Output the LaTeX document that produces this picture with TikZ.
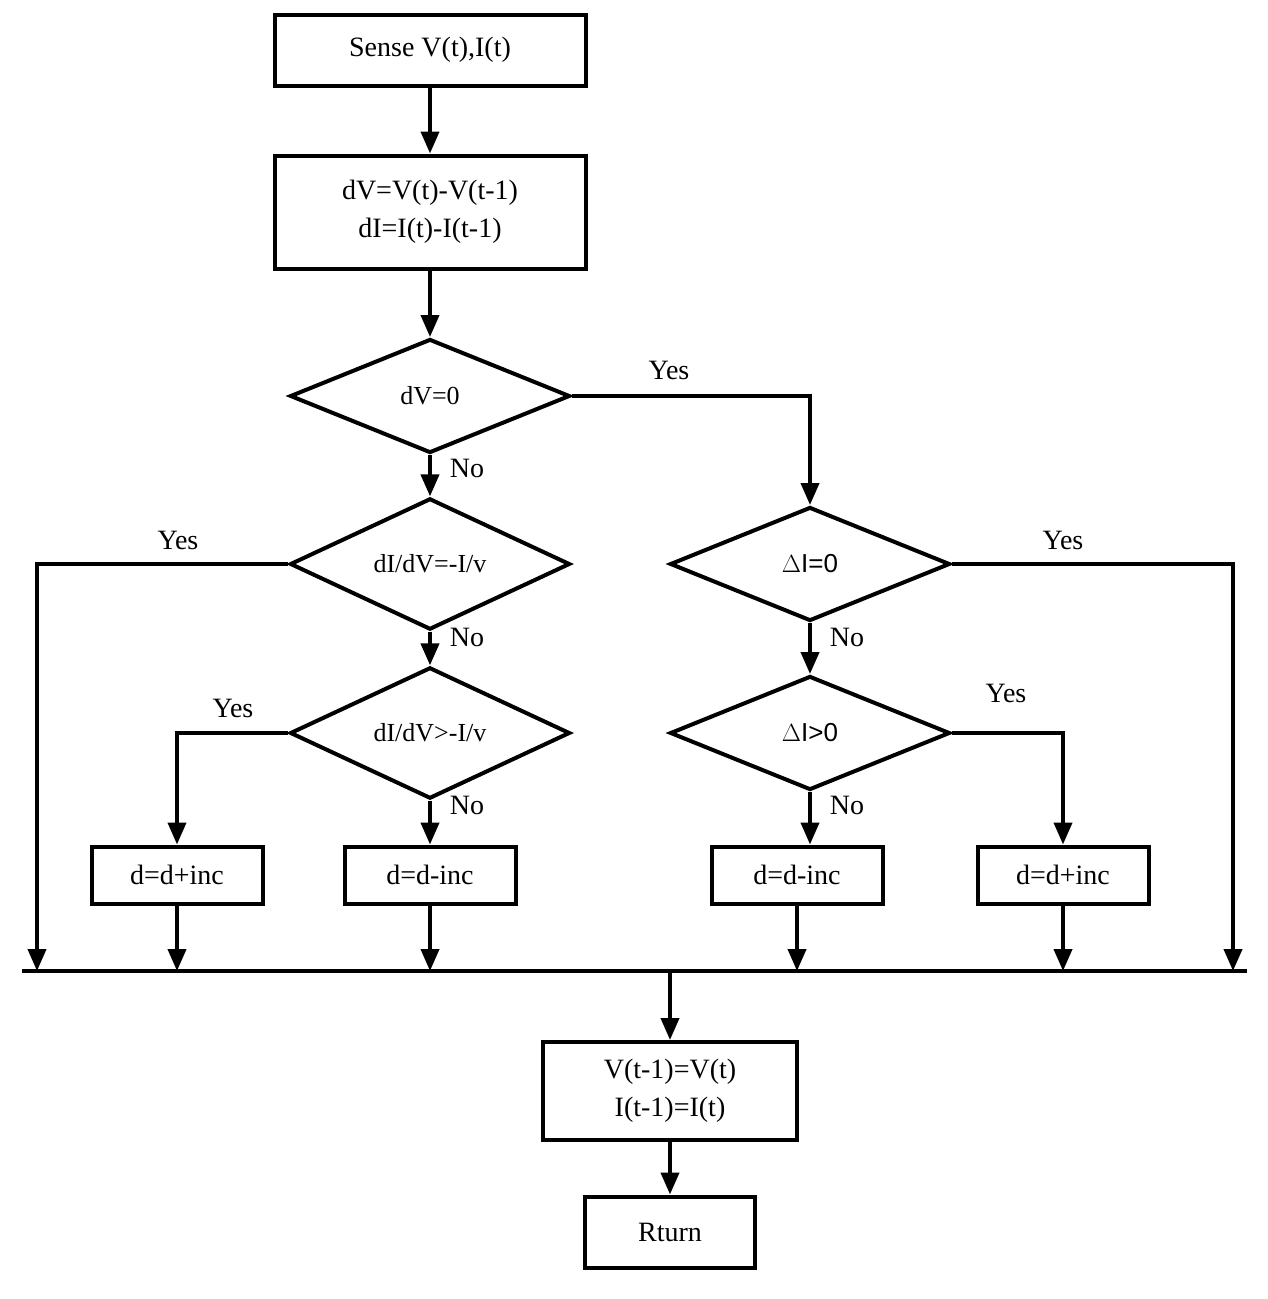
\documentclass[tikz,border=0pt]{standalone}
\usepackage{fontspec}
\setmainfont{Liberation Serif}
\newfontfamily\mysans{Liberation Sans}
\usetikzlibrary{shapes.geometric,arrows.meta}
\begin{document}
\begin{tikzpicture}[x=1pt,y=-1pt,line width=4pt,
 box/.style={draw,rectangle,inner sep=0pt,align=center,font=\fontsize{28}{38}\selectfont},
 dia/.style={draw,diamond,inner sep=0pt,minimum width=280pt,minimum height=114pt,font=\fontsize{26}{30}\selectfont},
 lab/.style={font=\fontsize{28}{32}\selectfont},
 arr/.style={-{Triangle[length=22pt,width=18pt]}}]
\useasboundingbox (0,0) rectangle (1267,1299);
\node[box,minimum width=311pt,minimum height=71pt] (s) at (430,50) {Sense V(t),I(t)};
\node[box,minimum width=311pt,minimum height=113pt] (c) at (430,212) {dV=V(t)-V(t-1)\\dI=I(t)-I(t-1)};
\node[dia] (d1) at (430,396) {dV=0};
\node[dia] (d2) at (430,564) {dI/dV=-I/v};
\node[dia] (d3) at (430,733) {dI/dV>-I/v};
\node[dia] (d4) at (810,564) {\mysans$\Delta$I=0};
\node[dia] (d5) at (810,733) {\mysans$\Delta$I>0};
\node[box,minimum width=171pt,minimum height=57pt] (b1) at (177,875) {d=d+inc};
\node[box,minimum width=171pt,minimum height=57pt] (b2) at (430,875) {d=d-inc};
\node[box,minimum width=171pt,minimum height=57pt] (b3) at (797,875) {d=d-inc};
\node[box,minimum width=171pt,minimum height=57pt] (b4) at (1063,875) {d=d+inc};
\node[box,minimum width=254pt,minimum height=98pt] (u) at (670,1091) {V(t-1)=V(t)\\I(t-1)=I(t)};
\node[box,minimum width=170pt,minimum height=71pt] (r) at (670,1232) {Rturn};
\coordinate (bl) at (22,971); \coordinate (br) at (1247,971);
\draw (bl) -- (br);
\draw[arr] (s) -- (c);
\draw[arr] (c) -- (d1);
\draw[arr] (d1) -- (d2);
\draw[arr] (d2) -- (d3);
\draw[arr] (d3) -- (b2);
\draw[arr] (d1.east) -| (d4.north);
\draw[arr] (d4) -- (d5);
\draw[arr] (d5.south) -- (d5.south|-b3.north);
\draw[arr] (d2.west) -| (37,971);
\draw[arr] (d3.west) -| (b1.north);
\draw[arr] (d4.east) -| (1233,971);
\draw[arr] (d5.east) -| (b4.north);
\draw[arr] (b1) -- (177,971);
\draw[arr] (b2) -- (430,971);
\draw[arr] (b3) -- (797,971);
\draw[arr] (b4) -- (1063,971);
\draw[arr] (670,971) -- (u);
\draw[arr] (u) -- (r);
\node[lab] (l1) at (669,370) {Yes};
\node[lab] (l2) at (467,468) {No};
\node[lab] (l3) at (178,540) {Yes};
\node[lab] (l4) at (467,637) {No};
\node[lab] (l5) at (233,708) {Yes};
\node[lab] (l6) at (467,805) {No};
\node[lab] (l7) at (1063,540) {Yes};
\node[lab] (l8) at (847,637) {No};
\node[lab] (l9) at (1006,693) {Yes};
\node[lab] (l10) at (847,805) {No};
\end{tikzpicture}
\end{document}
